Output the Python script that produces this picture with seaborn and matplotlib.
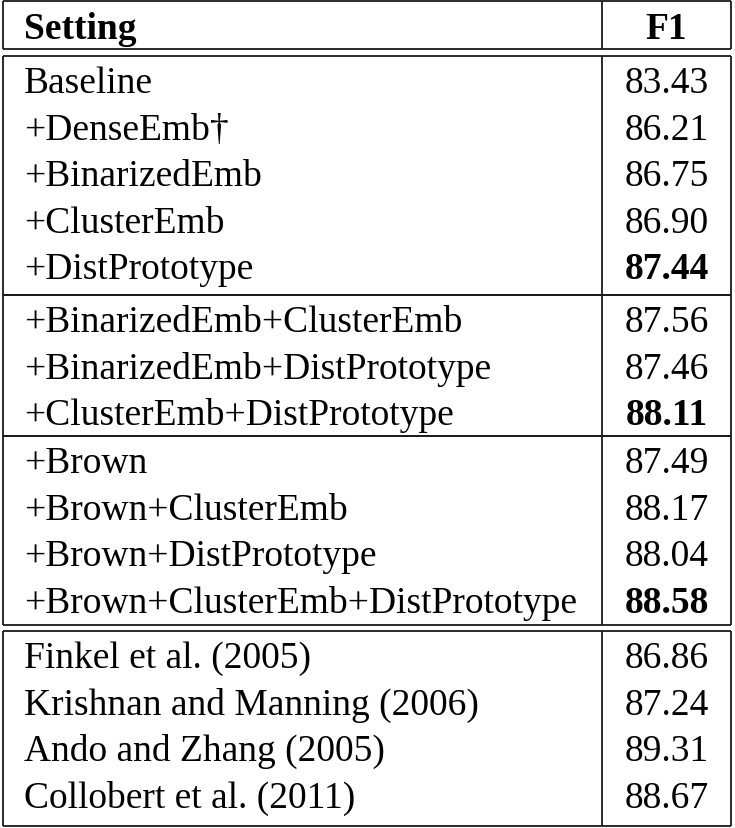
import matplotlib
matplotlib.use("Agg")
import matplotlib.pyplot as plt
import seaborn as sns

header = ["Setting", "F1"]

settings = [
    "Baseline", "+DenseEmb\u2020", "+BinarizedEmb", "+ClusterEmb", "+DistPrototype",
    "+BinarizedEmb+ClusterEmb", "+BinarizedEmb+DistPrototype", "+ClusterEmb+DistPrototype",
    "+Brown", "+Brown+ClusterEmb", "+Brown+DistPrototype", "+Brown+ClusterEmb+DistPrototype",
    "Finkel et al. (2005)", "Krishnan and Manning (2006)", "Ando and Zhang (2005)", "Collobert et al. (2011)",
]
f1 = [
    "83.43", "86.21", "86.75", "86.90", "87.44",
    "87.56", "87.46", "88.11",
    "87.49", "88.17", "88.04", "88.58",
    "86.86", "87.24", "89.31", "88.67",
]
best = ["87.44", "88.11", "88.58"]
section_sizes = [5, 3, 4, 4]

sns.set_theme(style="white")
plt.rcParams['font.family'] = ['Liberation Serif', 'DejaVu Serif']

W, H = 735, 829
fig = plt.figure(figsize=(W / 100, H / 100), dpi=100)
ax = fig.add_axes([0, 0, 1, 1])
ax.set_xlim(0, W)
ax.set_ylim(H, 0)
ax.axis("off")

# layout in pixels
x_left, x_mid, x_right = 3, 602, 731
x_text = 24
x_num = (x_mid + x_right) / 2
row_h = 46.6
fs = 27
lw = 1.3
col = "#1a1a1a"

# header box
hdr_top, hdr_bot = 2, 50
ax.hlines([hdr_top, hdr_bot], x_left, x_right, color=col, lw=lw)
ax.vlines([x_left, x_mid, x_right], hdr_top, hdr_bot, color=col, lw=lw)
ax.text(x_text, 39, header[0], fontsize=fs, fontweight="bold", ha="left", va="baseline", color="black")
ax.text(x_num, 39, header[1], fontsize=fs, fontweight="bold", ha="center", va="baseline", color="black")

# section boxes (first three touch, last one is set apart)
tops = [57, 296, 437, 632]
bots = [296, 437, 626, 827]

idx = 0
for k, n in enumerate(section_sizes):
    top, bot = tops[k], bots[k]
    for i in range(n):
        yb = top + 36 + i * row_h
        ax.text(x_text, yb, settings[idx], fontsize=fs, ha="left", va="baseline", color="black")
        weight = "bold" if f1[idx] in best else "normal"
        ax.text(x_num, yb, f1[idx], fontsize=fs, fontweight=weight, ha="center", va="baseline", color="black")
        idx += 1
    ax.hlines([top, bot], x_left, x_right, color=col, lw=lw)
    ax.vlines([x_left, x_mid, x_right], top, bot, color=col, lw=lw)

fig.savefig("out.png", dpi=100, facecolor="white")
